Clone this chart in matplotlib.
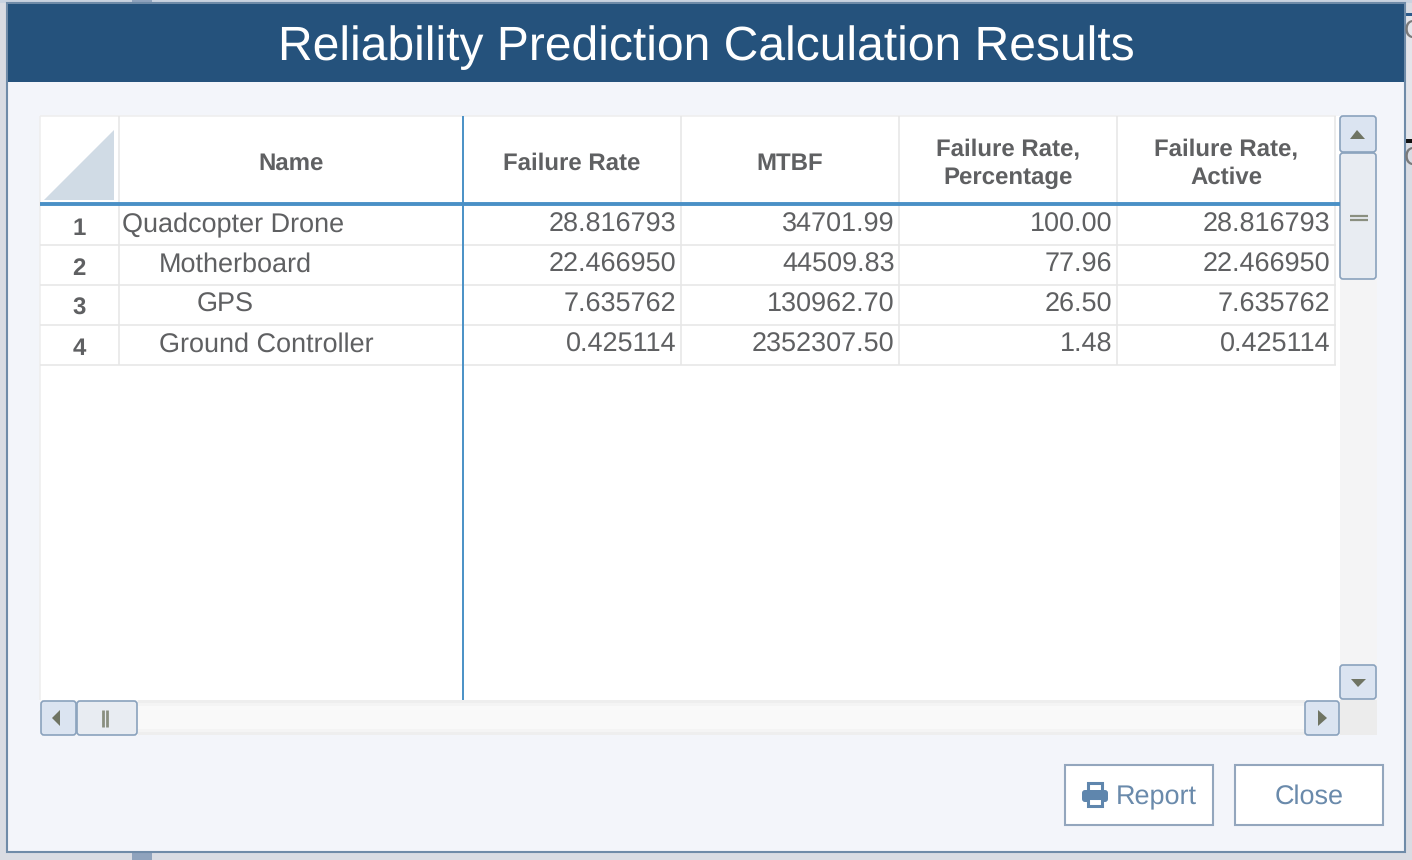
import matplotlib
matplotlib.use('Agg')
import matplotlib.pyplot as plt
from matplotlib.patches import Rectangle, FancyBboxPatch, Polygon

plt.rcParams['font.family'] = ['Liberation Sans', 'DejaVu Sans']
plt.rcParams['text.hinting'] = 'no_hinting'
plt.rcParams['text.hinting_factor'] = 1

# table contents
title = 'Reliability Prediction Calculation Results'
columns = ['Failure Rate', 'MTBF', 'Failure Rate,\nPercentage', 'Failure Rate,\nActive']
row_numbers = ['1', '2', '3', '4']
names = ['Quadcopter Drone', 'Motherboard', 'GPS', 'Ground Controller']
indents = [0, 1, 2, 1]
failure_rate = ['28.816793', '22.466950', '7.635762', '0.425114']
mtbf = ['34701.99', '44509.83', '130962.70', '2352307.50']
percentage = ['100.00', '77.96', '26.50', '1.48']
failure_active = ['28.816793', '22.466950', '7.635762', '0.425114']

TEXT = '#5f6062'
GRID = '#e6e6e6'
BLUE = '#4a90c6'
PANEL = '#f3f5fa'
BTN = '#dbe4f1'
THUMB = '#e8ecf2'
EDGE = '#8aa2bd'
ARROW = '#6f7463'

fig = plt.figure(figsize=(14.12, 8.6), dpi=100, facecolor='#d9dce3')
ax = fig.add_axes([0, 0, 1, 1])
ax.set_xlim(0, 1412)
ax.set_ylim(860, 0)
ax.axis('off')


def rect(x0, y0, x1, y1, **kw):
    kw.setdefault('linewidth', 0)
    ax.add_patch(Rectangle((x0, y0), x1 - x0, y1 - y0, **kw))


def line(x0, y0, x1, y1, color=GRID, lw=1.1):
    ax.plot([x0, x1], [y0, y1], color=color, lw=lw, solid_capstyle='butt')


def button(x0, y0, x1, y1, face=BTN):
    ax.add_patch(FancyBboxPatch((x0 + 2, y0 + 2), x1 - x0 - 4, y1 - y0 - 4,
                                boxstyle='round,pad=2,rounding_size=3',
                                facecolor=face, edgecolor=EDGE, linewidth=1.2))


# stuff peeking out behind the dialog
rect(0, 0, 1412, 3, facecolor='#c9d3e0')
rect(132, 0, 152, 3, facecolor='#8fa3bd')
rect(132, 852, 152, 860, facecolor='#8fa3bd')
rect(1405, 13, 1412, 16, facecolor='#2c5a8a')
rect(1405, 139, 1412, 143, facecolor='#111111')
rect(1405, 16, 1412, 139, facecolor='#e4e5ea')
ax.text(1404, 31, 'C', fontsize=19, color='#7a7a7a', va='center', ha='left')
ax.text(1404, 158, 'C', fontsize=19, color='#7a7a7a', va='center', ha='left')

# dialog
rect(7, 3, 1405, 852, facecolor=PANEL, edgecolor='#6f8ba8', linewidth=1.5)
rect(8, 4, 1404, 82, facecolor='#25527c')
ax.text(706, 48, title, color='white', fontsize=34.85, ha='center', va='center')

# table body
rect(40, 116, 1340, 700, facecolor='white')
rect(1340, 116, 1377, 735, facecolor='#f4f4f5')
rect(40, 700, 1340, 735, facecolor='#f9f9f9')
rect(138, 700, 1305, 703, facecolor='#eeeeee')
rect(138, 703, 1305, 706, facecolor='#f4f4f4')
rect(138, 729, 1305, 732, facecolor='#f4f4f4')
rect(138, 732, 1305, 735, facecolor='#eeeeee')
rect(1340, 700, 1377, 735, facecolor='#ececec')

col_edges = [463, 681, 899, 1117, 1335]
row_lines = [245, 285, 325, 365]
line(40, 115.5, 1336, 115.5, color='#eeeeee')
line(40, 116, 40, 700, color='#eeeeee')
line(119, 116, 119, 365)
for x in col_edges[1:]:
    line(x, 116, x, 365)
for y in row_lines:
    line(40, y, 1336, y)

# corner triangle
ax.add_patch(Polygon([[44, 200], [114, 200], [114, 130]], closed=True,
                     facecolor='#d0dbe5', linewidth=0))

ax.text(291, 164, 'Name', color=TEXT, fontsize=17, fontweight='bold', ha='center', va='center')
for i, col in enumerate(columns):
    ax.text((col_edges[i] + col_edges[i + 1]) / 2, 164, col, color=TEXT, fontsize=17,
            fontweight='bold', ha='center', va='center', linespacing=1.3)

# header rule and frozen column divider
line(40, 204, 1340, 204, color=BLUE, lw=2.8)
line(463, 116, 463, 700, color=BLUE, lw=1.4)

value_cols = [failure_rate, mtbf, percentage, failure_active]
for r in range(len(names)):
    y_mid = 225 + 40 * r
    ax.text(79, y_mid + 4, row_numbers[r], color=TEXT, fontsize=17, fontweight='bold',
            ha='center', va='center')
    ax.text(122 + 37.2 * indents[r], y_mid, names[r], color=TEXT, fontsize=19.1,
            ha='left', va='center')
    for c, vals in enumerate(value_cols):
        ax.text(col_edges[c + 1] - 4.5, y_mid, vals[r], color=TEXT, fontsize=19.1,
                ha='right', va='center')

# vertical scrollbar
button(1340, 116, 1376, 152)
button(1340, 153, 1376, 279, face=THUMB)
button(1340, 665, 1376, 699)
ax.add_patch(Polygon([[1350, 139], [1365, 139], [1357, 130]], facecolor=ARROW, linewidth=0))
ax.add_patch(Polygon([[1351, 679], [1366, 679], [1358, 687]], facecolor=ARROW, linewidth=0))
line(1350, 215.5, 1368, 215.5, color='#8a8f80', lw=1.6)
line(1350, 219.5, 1368, 219.5, color='#8a8f80', lw=1.6)

# horizontal scrollbar
button(41, 701, 76, 735)
button(77, 701, 137, 735, face=THUMB)
button(1305, 701, 1339, 735)
ax.add_patch(Polygon([[60, 710], [60, 726], [52, 718]], facecolor=ARROW, linewidth=0))
ax.add_patch(Polygon([[1318, 710], [1318, 726], [1327, 718]], facecolor=ARROW, linewidth=0))
line(102.5, 710, 102.5, 727, color='#8a8f80', lw=2)
line(107, 710, 107, 727, color='#8a8f80', lw=2)

# footer buttons
rect(1065, 765, 1213, 825, facecolor='white', edgecolor='#93a6bd', linewidth=1.5)
rect(1235, 765, 1383, 825, facecolor='white', edgecolor='#93a6bd', linewidth=1.5)
ax.text(1116, 797, 'Report', color='#6a8aab', fontsize=19.6, ha='left', va='center')
ax.text(1309, 797, 'Close', color='#6a8aab', fontsize=19.6, ha='center', va='center')

# printer icon
ICON = '#5f86ad'
rect(1088, 783, 1102, 793, facecolor='white', edgecolor=ICON, linewidth=2.2)
ax.add_patch(FancyBboxPatch((1082, 790), 26, 12, boxstyle='round,pad=0,rounding_size=3',
                            facecolor=ICON, linewidth=0))
rect(1088, 798, 1102, 806, facecolor='white', edgecolor=ICON, linewidth=2.2)

fig.savefig('out.png', dpi=100, facecolor=fig.get_facecolor())
